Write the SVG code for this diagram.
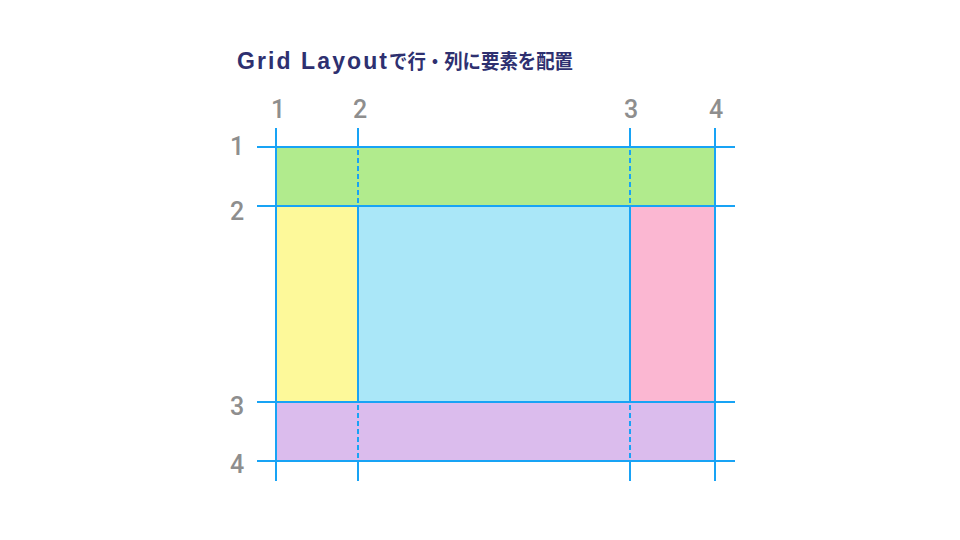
<svg xmlns="http://www.w3.org/2000/svg" width="960" height="540" viewBox="0 0 960 540">
<style>
.num{font-family:Roboto,"Liberation Sans",sans-serif;font-size:25px;font-weight:500;fill:#8e8e8e;text-anchor:middle}
.ln{stroke:#18a3f5;stroke-width:2;fill:none}
.dash{stroke:#18a3f5;stroke-width:2;fill:none;stroke-dasharray:5 3}
.title{font-family:"Noto Sans CJK JP","Noto Sans",sans-serif;font-size:20px;font-weight:700;fill:#2e3070}
.latin{font-family:"Liberation Sans","Noto Sans",sans-serif;font-size:23px;font-weight:700}
</style>
<rect width="960" height="540" fill="#ffffff"/>
<text class="title" x="237" y="69"><tspan class="latin" x="237" textLength="150" lengthAdjust="spacing">Grid Layout</tspan><tspan x="389" textLength="184" lengthAdjust="spacingAndGlyphs">で行・列に要素を配置</tspan></text>
<g id="areas">
<rect id="area-header" x="276" y="147" width="439" height="59" fill="#b1eb8d"/>
<rect id="area-left" x="276" y="206" width="82" height="196" fill="#fdf99a"/>
<rect id="area-main" x="358" y="206" width="272" height="196" fill="#aae7f8"/>
<rect id="area-right" x="630" y="206" width="85" height="196" fill="#fbb7d2"/>
<rect id="area-footer" x="276" y="402" width="439" height="59" fill="#dbbced"/>
</g>
<g id="grid-lines">
<line class="ln" x1="257" y1="147" x2="735" y2="147"/>
<line class="ln" x1="257" y1="206" x2="735" y2="206"/>
<line class="ln" x1="257" y1="402" x2="735" y2="402"/>
<line class="ln" x1="257" y1="461" x2="735" y2="461"/>
<line class="ln" x1="276" y1="128" x2="276" y2="481"/>
<line class="ln" x1="715" y1="128" x2="715" y2="481"/>
<line class="ln" x1="358" y1="128" x2="358" y2="147"/>
<line class="dash" x1="358" y1="150" x2="358" y2="206"/>
<line class="ln" x1="358" y1="206" x2="358" y2="402"/>
<line class="dash" x1="358" y1="405" x2="358" y2="461"/>
<line class="ln" x1="358" y1="461" x2="358" y2="481"/>
<line class="ln" x1="630" y1="128" x2="630" y2="147"/>
<line class="dash" x1="630" y1="150" x2="630" y2="206"/>
<line class="ln" x1="630" y1="206" x2="630" y2="402"/>
<line class="dash" x1="630" y1="405" x2="630" y2="461"/>
<line class="ln" x1="630" y1="461" x2="630" y2="481"/>
</g>
<g id="col-numbers">
<text class="num" x="278" y="118">1</text>
<text class="num" x="360" y="118">2</text>
<text class="num" x="631" y="118">3</text>
<text class="num" x="716" y="118">4</text>
</g>
<g id="row-numbers">
<text class="num" x="237" y="155">1</text>
<text class="num" x="237" y="220">2</text>
<text class="num" x="237" y="415">3</text>
<text class="num" x="237" y="473">4</text>
</g>
</svg>
